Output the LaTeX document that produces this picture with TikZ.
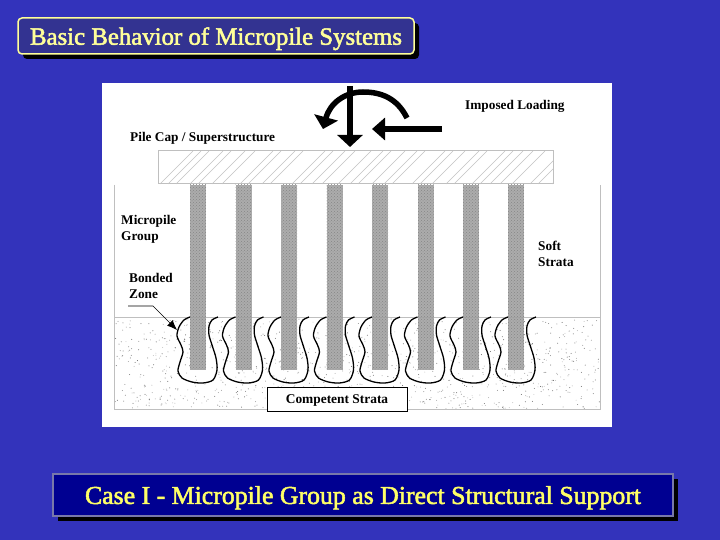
\documentclass[tikz,border=0pt]{standalone}
\usepackage{fontspec}
\setmainfont{Liberation Serif}
\newfontfamily\platefont[FakeBold=2]{Liberation Serif}
\usetikzlibrary{arrows.meta,patterns}
\definecolor{slateblue}{RGB}{51,51,187}
\definecolor{titleblue}{RGB}{51,51,145}
\definecolor{titlerim}{RGB}{255,255,153}
\definecolor{casenavy}{RGB}{0,0,145}
\definecolor{caserim}{RGB}{120,120,170}
\definecolor{caseyellow}{RGB}{255,255,102}
\tikzset{
  panelline/.style={draw=black!25, line width=1pt},
  bondline/.style={black, line width=1.3pt, smooth},
  tag/.style={font=\fontsize{13.3}{16}\selectfont\bfseries, align=left, anchor=west, inner sep=0pt},
  loadarrow/.style={black, line width=5.5pt},
}
\begin{document}
\begin{tikzpicture}[x=1pt,y=-1pt]
\useasboundingbox (0,0) rectangle (720,540);
\fill[slateblue] (0,0) rectangle (720,540);

% title plate
\fill[black, rounded corners=4pt] (23,23) rectangle (419,59);
\node[draw=titlerim, fill=titleblue, line width=1.5pt, rounded corners=4pt, minimum width=396pt, minimum height=36pt,
      text=titlerim, font=\platefont\fontsize{24.8}{26}\selectfont, inner sep=0pt, text depth=0pt] (title) at (216,36) {Basic Behavior of Micropile Systems};

% white panel
\fill[white] (102,83) rectangle (612,427);

% soil
\pgfmathsetseed{4711}
\foreach \i in {1,...,1100}{
  \pgfmathsetmacro{\dotx}{114+rnd*486}
  \pgfmathsetmacro{\doty}{319+rnd*90}
  \pgfmathsetmacro{\dotk}{20+rnd*45}
  \fill[black!\dotk] (\dotx,\doty) circle (0.5);
}
\draw[panelline] (114,185) -- (114,409) -- (600,409) -- (600,185);
\draw[panelline] (114,317) -- (600,317);

% piles and bond zones
\foreach \px in {198,243.5,289,334.5,380,425.5,471,516}{
  \fill[black!36, fill opacity=0.9] (\px-8,185) rectangle (\px+8,369.5);
  \fill[pattern=crosshatch dots, pattern color=black!48] (\px-8,185) rectangle (\px+8,369.5);
  \draw[bondline] plot coordinates {(\px-8,317) (\px-14,320) (\px-19,327) (\px-21,336) (\px-17,345) (\px-15,352)
      (\px-18,362) (\px-20,371) (\px-16,378) (\px-6,382) (\px+5,383) (\px+15,380) (\px+19,370) (\px+18,358)
      (\px+14,345) (\px+11,335) (\px+11,326) (\px+14,320) (\px+20,317)};
}

% pile cap
\node[draw=black!25, fill=white, line width=1pt, minimum width=395pt, minimum height=33pt, inner sep=0pt] (cap) at (355.5,167.5) {};
\begin{scope}
\clip (cap.north west) rectangle (cap.south east);
\foreach \hx in {160,168,176,190,198,212,222,240,248,262,270,292,300,312,322,338,350,358,372,384,392,412,420,432,446,454,472,480,490,500,512,530,538,552,566,574}{
  \draw[black!24, line width=0.4pt] (\hx,184) -- ++(33,-33);
}
\end{scope}

% loads
\coordinate (vtop) at (350,86);
\coordinate (vtip) at (350,147);
\coordinate (htail) at (442,129);
\coordinate (htip) at (372,129);
\coordinate (atail) at (407,118);
\coordinate (atop) at (363,92);
\coordinate (atip) at (323,129);
\draw[loadarrow, -{Triangle[length=12pt,width=25pt]}] (vtop) -- (vtip);
\draw[loadarrow, -{Triangle[length=13pt,width=22pt]}] (htail) -- (htip);
\draw[loadarrow, -{Triangle[length=12pt,width=24pt]}] (atail) .. controls (397,98) and (381,92) .. (atop) .. controls (345,92) and (330,103) .. (atip);

% labels
\node[tag] (imposed) at (465,106) {Imposed Loading};
\node[tag] (capname) at (130,138.5) {Pile Cap / Superstructure};
\node[tag] (group) at (121,229) {Micropile\\Group};
\node[tag] (bonded) at (129,286) {Bonded\\Zone};
\node[tag] (soft) at (538,254) {Soft\\Strata};
\node[draw=black, fill=white, line width=0.8pt, minimum width=140pt, minimum height=24pt, inner sep=0pt, text depth=0pt,
      font=\fontsize{13.4}{15}\selectfont\bfseries] (competent) at (337,399) {Competent Strata};

\coordinate (bondstart) at (128,306);
\coordinate (bondknee) at (153,306);
\coordinate (bondtip) at (177,330);
\draw[black, line width=0.7pt, -{Latex[length=10pt,width=8pt]}] (bondstart) -- (bondknee) -- (bondtip);

% case plate
\fill[black] (58,479) rectangle (678,521);
\node[draw=caserim, fill=casenavy, line width=2.5pt, minimum width=620pt, minimum height=42pt,
      text=caseyellow, font=\platefont\fontsize{25.8}{26}\selectfont, inner sep=0pt, text depth=0pt] (casename) at (363,495) {Case I - Micropile Group as Direct Structural Support};
\end{tikzpicture}
\end{document}
